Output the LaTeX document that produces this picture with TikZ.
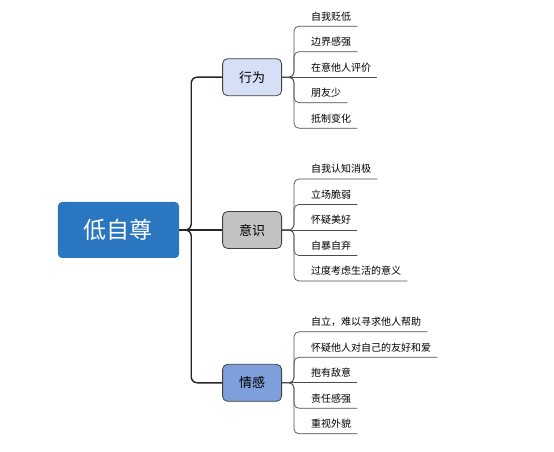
\documentclass[tikz,border=0pt]{standalone}
\usepackage{fontspec}
\newfontfamily\cjkfont{Noto Sans CJK SC}
\usetikzlibrary{positioning}
\definecolor{rootblue}{HTML}{2B76C1}
\definecolor{actfill}{HTML}{D6DFF6}
\definecolor{mindfill}{HTML}{C2C2C2}
\definecolor{feelfill}{HTML}{7F9FDC}

\begin{document}
\begin{tikzpicture}[
    font=\cjkfont,
    rootbox/.style={fill=rootblue, rounded corners=4pt, minimum width=121pt, minimum height=56pt,
                    text=white, font=\cjkfont\fontsize{23}{25}\selectfont},
    topic/.style={draw=black!75, line width=0.8pt, rounded corners=5pt, minimum width=59pt,
                  minimum height=37pt, font=\cjkfont\fontsize{13}{15}\selectfont},
    leaf/.style={anchor=south west, inner xsep=6pt, inner ysep=5pt,
                 font=\cjkfont\fontsize{10}{12}\selectfont},
    trunk/.style={draw=black!85, line width=1.4pt, rounded corners=6pt},
    twig/.style={draw=black!70, line width=0.7pt, rounded corners=5pt},
]
\useasboundingbox (-118.5pt,-222pt) rectangle (435.5pt,230pt);

% --- Root ---
\node[rootbox] (root) at (0,0) {低自尊};

% --- Topics ---
\node[topic, fill=mindfill, right=43pt of root] (yishi) {意识};
\node[topic, fill=actfill, above=115pt of yishi] (xingwei) {行为};
\node[topic, fill=feelfill, below=115pt of yishi] (qinggan) {情感};

% --- Leaves: behaviour ---
\node[leaf] (xw1) at ([shift={(23pt,51pt)}]xingwei.east) {自我贬低};
\node[leaf] (xw2) at ([shift={(23pt,25.5pt)}]xingwei.east) {边界感强};
\node[leaf] (xw3) at ([shift={(23pt,0pt)}]xingwei.east) {在意他人评价};
\node[leaf] (xw4) at ([shift={(23pt,-25.5pt)}]xingwei.east) {朋友少};
\node[leaf] (xw5) at ([shift={(23pt,-51pt)}]xingwei.east) {抵制变化};

% --- Leaves: awareness ---
\node[leaf] (ys1) at ([shift={(23pt,51pt)}]yishi.east) {自我认知消极};
\node[leaf] (ys2) at ([shift={(23pt,25.5pt)}]yishi.east) {立场脆弱};
\node[leaf] (ys3) at ([shift={(23pt,0pt)}]yishi.east) {怀疑美好};
\node[leaf] (ys4) at ([shift={(23pt,-25.5pt)}]yishi.east) {自暴自弃};
\node[leaf] (ys5) at ([shift={(23pt,-51pt)}]yishi.east) {过度考虑生活的意义};

% --- Leaves: feelings ---
\node[leaf] (qg1) at ([shift={(23pt,51pt)}]qinggan.east) {自立，难以寻求他人帮助};
\node[leaf] (qg2) at ([shift={(23pt,25.5pt)}]qinggan.east) {怀疑他人对自己的友好和爱};
\node[leaf] (qg3) at ([shift={(23pt,0pt)}]qinggan.east) {抱有敌意};
\node[leaf] (qg4) at ([shift={(23pt,-25.5pt)}]qinggan.east) {责任感强};
\node[leaf] (qg5) at ([shift={(23pt,-51pt)}]qinggan.east) {重视外貌};

% --- Trunk ---
\draw[trunk] (root.east) -- (yishi.west);
\draw[trunk] (root.east) -- ++(12pt,0) |- (xingwei.west);
\draw[trunk] (root.east) -- ++(12pt,0) |- (qinggan.west);

% --- Twigs ---
\draw[twig] (xingwei.east) -- ++(12pt,0) |- (xw1.south east);
\draw[twig] (xingwei.east) -- ++(12pt,0) |- (xw2.south east);
\draw[twig] (xingwei.east) -- (xw3.south east);
\draw[twig] (xingwei.east) -- ++(12pt,0) |- (xw4.south east);
\draw[twig] (xingwei.east) -- ++(12pt,0) |- (xw5.south east);

\draw[twig] (yishi.east) -- ++(12pt,0) |- (ys1.south east);
\draw[twig] (yishi.east) -- ++(12pt,0) |- (ys2.south east);
\draw[twig] (yishi.east) -- (ys3.south east);
\draw[twig] (yishi.east) -- ++(12pt,0) |- (ys4.south east);
\draw[twig] (yishi.east) -- ++(12pt,0) |- (ys5.south east);

\draw[twig] (qinggan.east) -- ++(12pt,0) |- (qg1.south east);
\draw[twig] (qinggan.east) -- ++(12pt,0) |- (qg2.south east);
\draw[twig] (qinggan.east) -- (qg3.south east);
\draw[twig] (qinggan.east) -- ++(12pt,0) |- (qg4.south east);
\draw[twig] (qinggan.east) -- ++(12pt,0) |- (qg5.south east);
\end{tikzpicture}
\end{document}
